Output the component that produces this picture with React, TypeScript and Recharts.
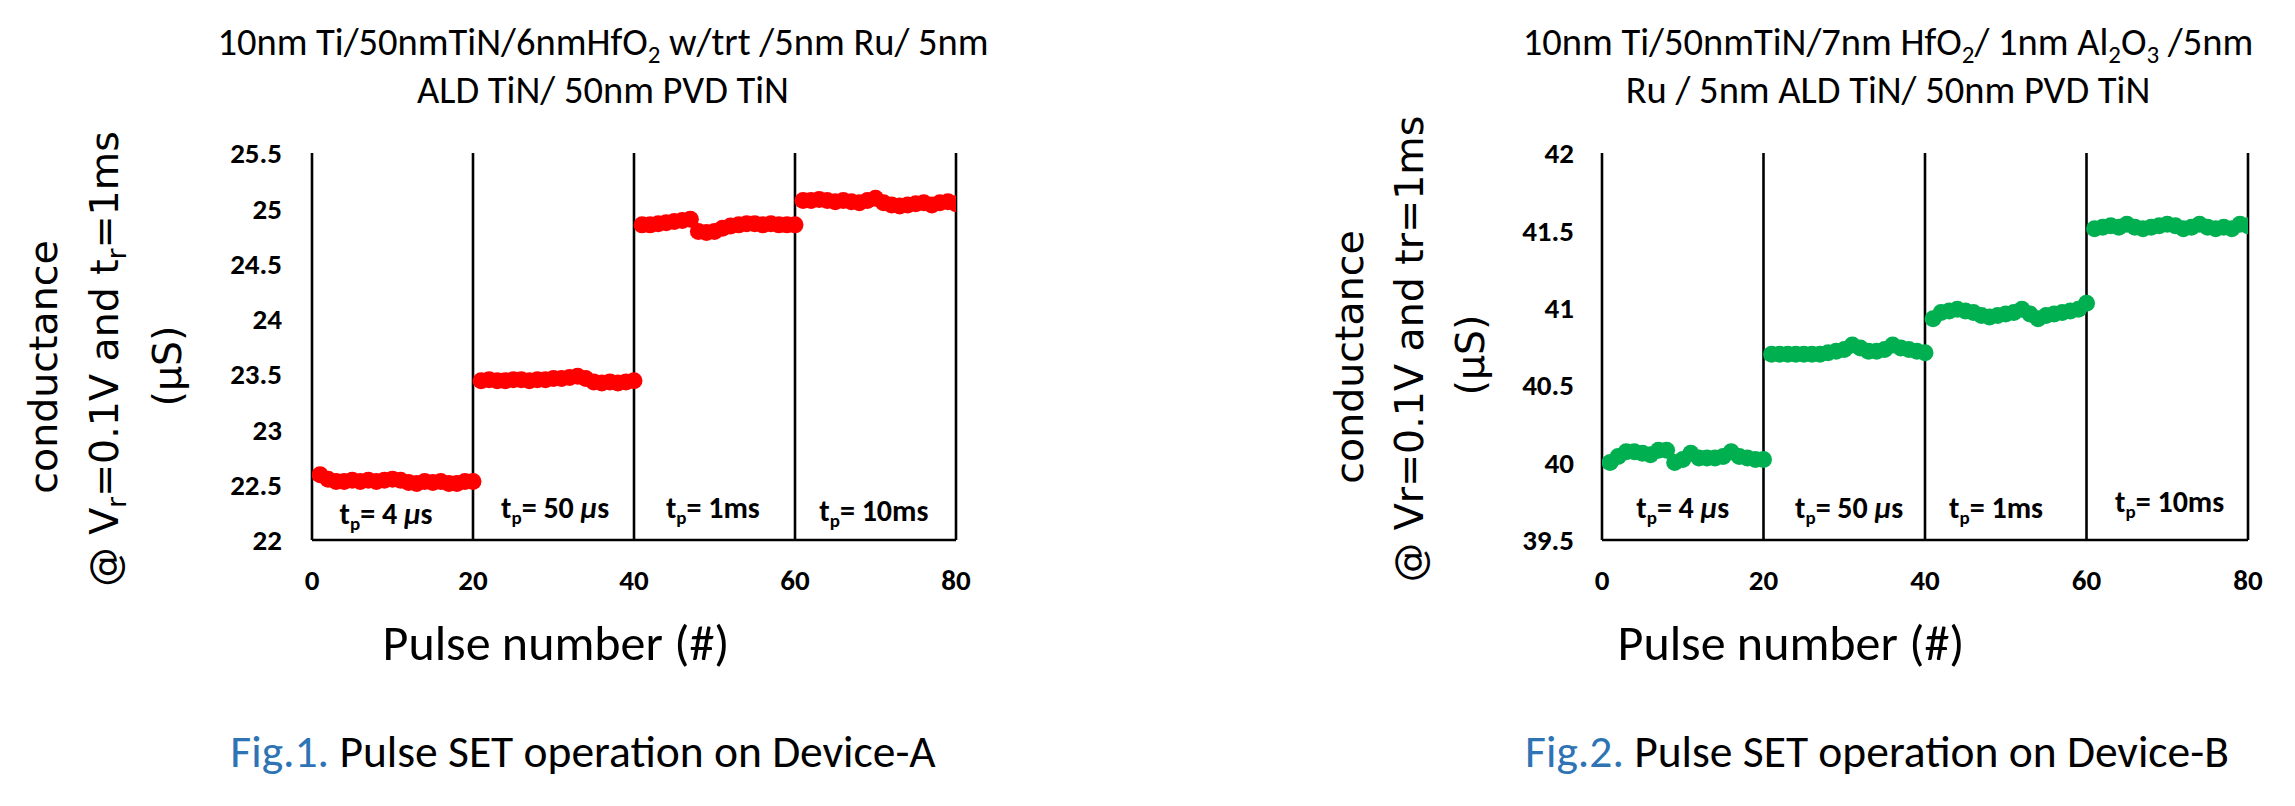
import React from 'react';
import { ScatterChart, Scatter, XAxis, YAxis, ReferenceLine } from 'recharts';

// ---------- data ----------
const pulseNumbers = [
  1, 2, 3, 4, 5, 6, 7, 8, 9, 10, 11, 12, 13, 14, 15, 16, 17, 18, 19, 20,
  21, 22, 23, 24, 25, 26, 27, 28, 29, 30, 31, 32, 33, 34, 35, 36, 37, 38, 39, 40,
  41, 42, 43, 44, 45, 46, 47, 48, 49, 50, 51, 52, 53, 54, 55, 56, 57, 58, 59, 60,
  61, 62, 63, 64, 65, 66, 67, 68, 69, 70, 71, 72, 73, 74, 75, 76, 77, 78, 79, 80,
];

// Device-A conductance (µS)
const deviceA_tp4us = [22.59, 22.55, 22.53, 22.53, 22.54, 22.53, 22.54, 22.53, 22.54, 22.55, 22.54, 22.52, 22.51, 22.53, 22.52, 22.53, 22.51, 22.51, 22.53, 22.53];
const deviceA_tp50us = [23.44, 23.45, 23.44, 23.44, 23.45, 23.45, 23.44, 23.45, 23.45, 23.46, 23.46, 23.47, 23.48, 23.46, 23.43, 23.42, 23.43, 23.42, 23.43, 23.44];
const deviceA_tp1ms = [24.85, 24.85, 24.86, 24.87, 24.88, 24.89, 24.9, 24.79, 24.78, 24.79, 24.82, 24.84, 24.85, 24.86, 24.86, 24.85, 24.86, 24.85, 24.85, 24.85];
const deviceA_tp10ms = [25.07, 25.07, 25.08, 25.07, 25.06, 25.07, 25.06, 25.05, 25.07, 25.09, 25.05, 25.03, 25.02, 25.03, 25.04, 25.05, 25.03, 25.05, 25.06, 25.04];

// Device-B conductance (µS)
const deviceB_tp4us = [40.0, 40.04, 40.07, 40.07, 40.06, 40.05, 40.08, 40.08, 40.0, 40.02, 40.06, 40.03, 40.03, 40.03, 40.04, 40.07, 40.04, 40.03, 40.02, 40.02];
const deviceB_tp50us = [40.7, 40.7, 40.7, 40.7, 40.7, 40.7, 40.7, 40.71, 40.72, 40.73, 40.76, 40.74, 40.72, 40.72, 40.73, 40.76, 40.74, 40.73, 40.72, 40.71];
const deviceB_tp1ms = [40.93, 40.97, 40.98, 40.99, 40.98, 40.97, 40.95, 40.94, 40.95, 40.96, 40.97, 40.99, 40.96, 40.93, 40.95, 40.96, 40.97, 40.98, 40.99, 41.03];
const deviceB_tp10ms = [41.51, 41.52, 41.53, 41.52, 41.54, 41.52, 41.51, 41.52, 41.53, 41.54, 41.53, 41.51, 41.52, 41.54, 41.52, 41.51, 41.52, 41.51, 41.54, 41.53];

const xTicks = [0, 20, 40, 60, 80];
const sectionBounds = [20, 40, 60, 80];
const yTicksA = [22, 22.5, 23, 23.5, 24, 24.5, 25, 25.5];
const yTicksB = [39.5, 40, 40.5, 41, 41.5, 42];

const pulseLabels = ['= 4 µs', '= 50 µs', '= 1ms', '= 10ms'];
const labelXA = [9.2, 30.2, 49.8, 69.8];
const labelYA = [22.24, 22.3, 22.3, 22.27];
const labelXB = [10.0, 30.6, 48.8, 70.3];
const labelYB = [39.71, 39.71, 39.71, 39.75];

// text pieces: [text, isSubscript]
type Piece = [string, boolean];
const titleA1: Piece[] = [['10nm Ti/50nmTiN/6nmHfO', false], ['2', true], [' w/trt /5nm Ru/ 5nm', false]];
const titleA2: Piece[] = [['ALD TiN/ 50nm PVD TiN', false]];
const titleB1: Piece[] = [['10nm Ti/50nmTiN/7nm HfO', false], ['2', true], ['/ 1nm Al', false], ['2', true], ['O', false], ['3', true], [' /5nm', false]];
const titleB2: Piece[] = [['Ru / 5nm ALD TiN/ 50nm PVD TiN', false]];
const yLabelA: Piece[][] = [
  [['conductance', false]],
  [['@ V', false], ['r', true], ['=0.1V and t', false], ['r', true], ['=1ms', false]],
  [['(µS)', false]],
];
const yLabelB: Piece[][] = [
  [['conductance', false]],
  [['@ Vr=0.1V and tr=1ms', false]],
  [['(µS)', false]],
];
const xLabel = 'Pulse number (#)';
const captionA: [string, string] = ['Fig.1.', ' Pulse SET operation on Device-A'];
const captionB: [string, string] = ['Fig.2.', ' Pulse SET operation on Device-B'];

// ---------- styling ----------
const CAL = "Carlito, Lato, 'Open Sans', sans-serif";
const VER = "'DejaVu Sans', Verdana, sans-serif";

const buildSeries = (segments: number[][]) => {
  const vals = ([] as number[]).concat(...segments);
  return vals.map((v, i) => ({ x: pulseNumbers[i], y: v }));
};
const buildLabels = (xs: number[], ys: number[]) =>
  xs.map((x, i) => ({ x, y: ys[i], text: pulseLabels[i] }));

const seriesA = buildSeries([deviceA_tp4us, deviceA_tp50us, deviceA_tp1ms, deviceA_tp10ms]);
const seriesB = buildSeries([deviceB_tp4us, deviceB_tp50us, deviceB_tp1ms, deviceB_tp10ms]);
const labelsA = buildLabels(labelXA, labelYA);
const labelsB = buildLabels(labelXB, labelYB);

const renderPieces = (pieces: Piece[], shift: number, subSize: number) => {
  let cur = 0;
  return pieces.map(([t, sub], i) => {
    const target = sub ? shift : 0;
    const dy = target - cur;
    cur = target;
    return (
      <tspan key={i} dy={dy} fontSize={sub ? subSize : undefined}>
        {t}
      </tspan>
    );
  });
};

const AnnotShape = (props: any) => {
  const { cx, cy, payload } = props;
  if (cx == null || cy == null) return null;
  const parts = String(payload.text).split('µ');
  return (
    <text x={cx} y={cy + 11} textAnchor="middle" fontFamily={CAL} fontWeight={700} fontSize={30} fill="#000">
      <tspan>t</tspan>
      <tspan dy={6} fontSize={19}>p</tspan>
      <tspan dy={-6}>{parts[0]}</tspan>
      {parts.length > 1 ? <tspan fontStyle="italic">µ</tspan> : null}
      {parts.length > 1 ? <tspan>{parts[1]}</tspan> : null}
    </text>
  );
};

const makeDot = (color: string) => (props: any) => {
  const { cx, cy } = props;
  if (cx == null || cy == null) return null;
  return <circle cx={cx} cy={cy} r={8.5} fill={color} />;
};

type PanelProps = {
  left: number;
  width: number;
  plotLeft: number;
  plotRight: number;
  data: { x: number; y: number }[];
  labels: { x: number; y: number; text: string }[];
  color: string;
  yTicks: number[];
  tickGap: number;
};

const PLOT_TOP = 153;
const PLOT_BOTTOM = 540;
const H = 806;
const YAW = 70;
const XAH = 50;

function Panel({ left, width, plotLeft, plotRight, data, labels, color, yTicks, tickGap }: PanelProps) {
  const tickStyle = { fill: '#000', fontSize: 29, fontWeight: 700, fontFamily: CAL };
  const axisStroke = { stroke: '#000', strokeWidth: 2.6 };
  return (
    <div style={{ position: 'absolute', left, top: 0, width, height: H }}>
      <ScatterChart
        width={width}
        height={H}
        margin={{ top: PLOT_TOP, right: width - plotRight, bottom: H - PLOT_BOTTOM - XAH, left: plotLeft - YAW }}
      >
        <XAxis
          type="number"
          dataKey="x"
          domain={[0, 80]}
          ticks={xTicks}
          height={XAH}
          tickLine={false}
          tickSize={0}
          tickMargin={29}
          axisLine={axisStroke}
          tick={tickStyle}
          allowDataOverflow
        />
        <YAxis
          type="number"
          dataKey="y"
          domain={[yTicks[0], yTicks[yTicks.length - 1]]}
          ticks={yTicks}
          width={YAW}
          tickLine={false}
          tickSize={0}
          tickMargin={tickGap}
          axisLine={axisStroke}
          tick={tickStyle}
          allowDataOverflow
        />
        {sectionBounds.map((b) => (
          <ReferenceLine key={b} x={b} stroke="#000" strokeWidth={2.6} ifOverflow="extendDomain" />
        ))}
        <Scatter data={data} shape={makeDot(color)} isAnimationActive={false} />
        <Scatter data={labels} shape={AnnotShape} isAnimationActive={false} />
      </ScatterChart>
    </div>
  );
}

const TitleText = ({ x, y, pieces }: { x: number; y: number; pieces: Piece[] }) => (
  <text x={x} y={y} textAnchor="middle" fontFamily={CAL} fontSize={38.5} fill="#000">
    {renderPieces(pieces, 8, 25)}
  </text>
);

const RotLine = ({ bx, cy, pieces }: { bx: number; cy: number; pieces: Piece[] }) => (
  <text transform={`translate(${bx},${cy}) rotate(-90)`} x={0} y={0} textAnchor="middle" fontFamily={VER} fontSize={39.5} fill="#000">
    {renderPieces(pieces, 8, 26)}
  </text>
);

function Overlay() {
  const yA = [57, 118, 181];
  const yAc = [367, 359, 366];
  const yB = [1363, 1423, 1484];
  const yBc = [357, 349, 355];
  return (
    <svg width={2295} height={806} style={{ position: 'absolute', left: 0, top: 0, pointerEvents: 'none' }}>
      <TitleText x={603} y={55} pieces={titleA1} />
      <TitleText x={603} y={103} pieces={titleA2} />
      <TitleText x={1888} y={55} pieces={titleB1} />
      <TitleText x={1888} y={103} pieces={titleB2} />

      {yLabelA.map((p, i) => (
        <RotLine key={'a' + i} bx={yA[i]} cy={yAc[i]} pieces={p} />
      ))}
      {yLabelB.map((p, i) => (
        <RotLine key={'b' + i} bx={yB[i]} cy={yBc[i]} pieces={p} />
      ))}

      <text x={556} y={660} textAnchor="middle" fontFamily={CAL} fontSize={50} fill="#000">{xLabel}</text>
      <text x={1791} y={660} textAnchor="middle" fontFamily={CAL} fontSize={50} fill="#000">{xLabel}</text>

      <text x={583} y={767} textAnchor="middle" fontFamily={CAL} fontSize={45.5} fill="#000">
        <tspan fill="#2E74B5">{captionA[0]}</tspan>
        <tspan>{captionA[1]}</tspan>
      </text>
      <text x={1877} y={767} textAnchor="middle" fontFamily={CAL} fontSize={45.5} fill="#000">
        <tspan fill="#2E74B5">{captionB[0]}</tspan>
        <tspan>{captionB[1]}</tspan>
      </text>
    </svg>
  );
}

export default function App() {
  return (
    <div style={{ position: 'absolute', left: 0, top: 0, width: 2295, height: 806, background: '#fff', overflow: 'hidden' }}>
      <Panel left={0} width={1150} plotLeft={312} plotRight={956} data={seriesA} labels={labelsA} color="#FF0000" yTicks={yTicksA} tickGap={30} />
      <Panel left={1150} width={1145} plotLeft={452} plotRight={1098} data={seriesB} labels={labelsB} color="#00B050" yTicks={yTicksB} tickGap={28} />
      <Overlay />
    </div>
  );
}
